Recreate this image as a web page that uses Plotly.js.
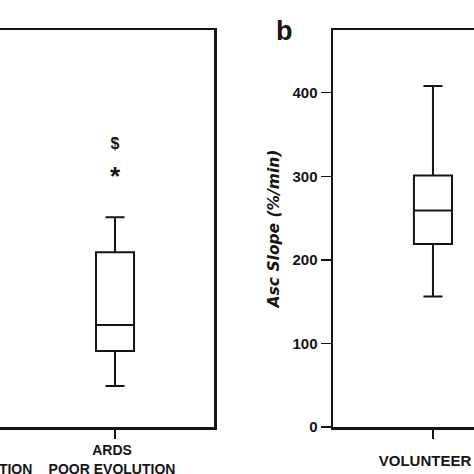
<!DOCTYPE html>
<html>
<head>
<meta charset="utf-8">
<script src="https://cdn.plot.ly/plotly-3.0.1.min.js"></script>
<style>html,body{margin:0;padding:0;background:#fff;}#chart{width:474px;height:474px;}</style>
</head>
<body>
<div id="chart"></div>
<script>
// Panel a (partially visible): ARDS poor evolution
const ardsPoorLabel = 'ARDS<br>POOR EVOLUTION';
const ardsGoodLabel = 'ARDS<br>GOOD EVOLUTION';
const ardsPoorStats = {lower: 49, q1: 91, median: 122, q3: 209, upper: 251};
const ardsPoorExtreme = [297];   // "*" extreme value
const ardsPoorSignif = [337];    // "$" marker

// Panel b: volunteers
const volunteerLabel = 'VOLUNTEER';
const volunteerStats = {lower: 156, q1: 219, median: 259, q3: 301, upper: 408};
const yTicks = [0, 100, 200, 300, 400];
const yTitle = 'Asc Slope (%/min)';

const FONT = 'Liberation Sans, Arial, sans-serif';
const INK = '#151515';

function boxTrace(pos, s, xa, ya, w) {
  return {
    type: 'box', x: [pos], q1: [s.q1], median: [s.median], q3: [s.q3],
    lowerfence: [s.lower], upperfence: [s.upper],
    xaxis: xa, yaxis: ya, width: w, whiskerwidth: 0.5,
    line: {color: INK, width: 2}, fillcolor: '#ffffff',
    boxpoints: false, hoverinfo: 'skip', showlegend: false
  };
}

const data = [
  boxTrace(1, ardsPoorStats, 'x', 'y', 0.266),
  {type: 'scatter', mode: 'text', x: [1], y: ardsPoorExtreme, text: ['*'],
   textfont: {family: FONT, size: 26, color: INK, weight: 'bold'}, xaxis: 'x', yaxis: 'y',
   showlegend: false, hoverinfo: 'skip', cliponaxis: false},
  {type: 'scatter', mode: 'text', x: [1], y: ardsPoorSignif, text: ['$'],
   textfont: {family: FONT, size: 16, color: INK, weight: 'bold'}, xaxis: 'x', yaxis: 'y',
   showlegend: false, hoverinfo: 'skip', cliponaxis: false},
  boxTrace(0, volunteerStats, 'x2', 'y2', 0.27)
];

const axisCommon = {
  showgrid: false, zeroline: false, showline: true, linecolor: INK, linewidth: 2.5,
  ticks: 'outside', tickcolor: INK, tickwidth: 1.5, fixedrange: true
};

const layout = {
  width: 474, height: 474,
  margin: {l: 0, r: 0, t: 30, b: 47},
  paper_bgcolor: '#ffffff', plot_bgcolor: '#ffffff',
  font: {family: FONT, color: INK},
  showlegend: false,
  xaxis: Object.assign({}, axisCommon, {
    domain: [0, 214/474], range: [0.196, 1.692], mirror: true,
    tickvals: [1], ticktext: [ardsPoorLabel], ticklen: 9,
    tickfont: {size: 14, weight: 'bold', color: INK}, ticklabelshift: -3
  }),
  yaxis: Object.assign({}, axisCommon, {
    anchor: 'x', side: 'right', range: [0, 475], ticks: '', showticklabels: false
  }),
  xaxis2: Object.assign({}, axisCommon, {
    domain: [333/474, 1], range: [-0.709, 0.291], mirror: true, anchor: 'y2',
    tickvals: [0], ticktext: [volunteerLabel], ticklen: 9, ticklabelstandoff: 9,
    tickfont: {size: 15, weight: 'bold', color: INK}, ticklabelshift: -8
  }),
  yaxis2: Object.assign({}, axisCommon, {
    anchor: 'x2', side: 'left', range: [0, 475], tickvals: yTicks, ticklen: 10,
    tickfont: {size: 15, weight: 'bold', color: INK},
    title: {text: yTitle, standoff: 9,
            font: {family: 'DejaVu Sans, sans-serif', size: 15.5, weight: 'bold', style: 'italic', color: INK}}
  }),
  annotations: [
    {text: 'b', xref: 'paper', yref: 'paper', x: 284/474, y: (427-31)/397, xanchor: 'center', yanchor: 'middle',
     showarrow: false, font: {size: 27, weight: 'bold', color: INK}},
    {text: ardsGoodLabel, xref: 'paper', yref: 'paper', x: -32/474, y: 0, yshift: -14, xanchor: 'center', yanchor: 'top',
     showarrow: false, font: {size: 14, weight: 'bold', color: INK}}
  ]
};

Plotly.newPlot('chart', data, layout, {displayModeBar: false, staticPlot: true});
</script>
</body>
</html>
